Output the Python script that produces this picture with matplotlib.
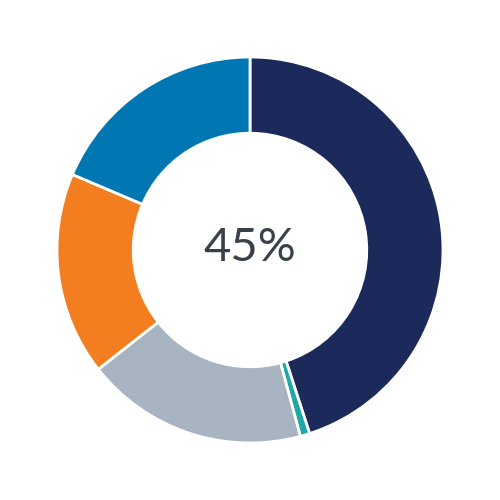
import matplotlib
matplotlib.use("Agg")
import matplotlib.pyplot as plt

# segment shares, clockwise from 12 o'clock
labels = ["Navy", "Teal", "Gray", "Orange", "Blue"]
shares = [45, 0.8, 18.6, 17.0, 18.6]
colors = ["#1b2a5a", "#1fa8a8", "#a9b4c2", "#f37e20", "#0077b3"]
center_text = "45%"

fig = plt.figure(figsize=(5, 5), dpi=100)
ax = fig.add_axes([0, 0, 1, 1])
ax.pie(shares, colors=colors, startangle=90, counterclock=False,
       radius=1.0,
       wedgeprops=dict(width=0.395, edgecolor="white", linewidth=2))
ax.text(0, 0.012, center_text, ha="center", va="center", fontsize=34,
        color="#3a4049", family=["Lato", "DejaVu Sans"])
lim = 250 / 193
ax.set_xlim(-lim, lim)
ax.set_ylim(-lim, lim)
ax.set_aspect("equal")
ax.axis("off")
fig.savefig("out.png", dpi=100, facecolor="white")
